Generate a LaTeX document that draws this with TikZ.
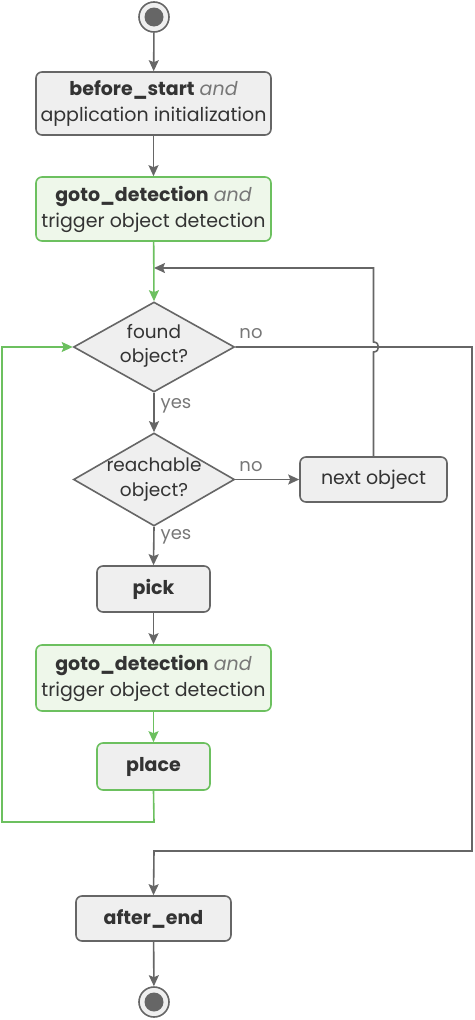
\documentclass[tikz,border=0pt]{standalone}
\usepackage{fontspec}
\setmainfont{Poppins}
\usetikzlibrary{arrows.meta,shapes.geometric}
\definecolor{lgrey}{HTML}{666666}
\definecolor{bfill}{HTML}{EFEFEF}
\definecolor{gstroke}{HTML}{6CC05F}
\definecolor{gfill}{HTML}{EEF7EA}
\definecolor{tdark}{HTML}{333333}
\definecolor{tsoft}{HTML}{777777}
\tikzset{
  box/.style={draw=lgrey, fill=bfill, line width=1.6pt, rounded corners=6pt,
    align=center, inner sep=0pt, text=tdark, font=\fontsize{19}{26}\selectfont},
  gbox/.style={box, draw=gstroke, fill=gfill},
  gpbox/.style={box, draw=gstroke},
  dec/.style={draw=lgrey, fill=bfill, line width=1.6pt, diamond, inner sep=0pt, aspect=1.78},
  dectext/.style={align=center, text=tdark, inner sep=0pt, font=\fontsize{18.5}{24.5}\selectfont},
  conn/.style={draw=lgrey, line width=1.6pt, -{Stealth[length=11pt,width=10pt,inset=2pt]}},
  gconn/.style={conn, draw=gstroke, -{Stealth[length=11pt,width=10pt,inset=2pt,fill=gstroke]}},
  lbl/.style={text=tsoft, font=\fontsize{18}{20}\selectfont, inner sep=0pt},
}
\newcommand{\andw}{{\itshape\color{tsoft}\mdseries and}}
\begin{document}
\begin{tikzpicture}[x=1pt,y=-1pt]
\useasboundingbox (0,0) rectangle (474,1020);
% start / end
\node[circle, draw=lgrey, fill=bfill, line width=1.6pt, minimum size=30pt, inner sep=0pt] (start) at (154,17) {};
\fill[lgrey] (start.center) circle[radius=9.5pt];
\node[circle, draw=lgrey, fill=bfill, line width=1.6pt, minimum size=30pt, inner sep=0pt] (stop) at (154,1002) {};
\fill[lgrey] (stop.center) circle[radius=9.5pt];
% boxes
\node[box, minimum width=235pt, minimum height=63pt] (b1) at (153.5,103.5)
  {\textbf{before\_start} \andw\\application initialization};
\node[gbox, minimum width=235pt, minimum height=64pt] (b2) at (153.5,209)
  {\textbf{goto\_detection} \andw\\trigger object detection};
\node[dec, minimum width=161pt, minimum height=90pt] (d1) at (154,347) {};
\node[dectext] (d1t) at (154,346) {found\\object?};
\node[dec, minimum width=161pt, minimum height=93pt] (d2) at (154,479.5) {};
\node[dectext] (d2t) at (154,479.5) {reachable\\object?};
\node[box, minimum width=147pt, minimum height=45pt] (nx) at (373.5,479.5) {next object};
\node[box, minimum width=113pt, minimum height=46pt] (pick) at (153.5,589) {\textbf{pick}};
\node[gbox, minimum width=235pt, minimum height=66pt] (b3) at (153.5,678)
  {\textbf{goto\_detection} \andw\\trigger object detection};
\node[gpbox, minimum width=113pt, minimum height=47pt] (place) at (153.5,766.5) {\textbf{place}};
\node[box, minimum width=155pt, minimum height=45pt] (ae) at (153.5,918.5) {\textbf{after\_end}};
% coordinates
\coordinate (join) at (154,268);
\coordinate (j1) at (373.5,352);
\coordinate (j2) at (373.5,342);
\coordinate (ntop) at (373.5,268);
\coordinate (r1) at (472,347);
\coordinate (r2) at (472,851);
\coordinate (r3) at (154,851);
\coordinate (l1) at (154,822);
\coordinate (l2) at (2,822);
\coordinate (l3) at (2,347);
% connectors
\draw[conn] (start) -- (b1);
\draw[conn] (b1) -- (b2);
\draw[gconn] (b2) -- (d1.north);
\draw[conn] (nx.north) -- (j1) .. controls (380.2,352) and (380.2,342) .. (j2) -- (ntop) -- (join);
\draw[conn] (d1.east) -- (r1) -- (r2) -- (r3) -- (ae.north);
\draw[conn] (d1.south) -- (d2.north);
\draw[conn] (d2.east) -- (nx.west);
\draw[conn] (d2.south) -- (pick.north);
\draw[conn] (pick) -- (b3);
\draw[gconn] (b3) -- (place);
\draw[gconn] (place.south) -- (l1) -- (l2) -- (l3) -- (d1.west);
\draw[conn] (ae) -- (stop);
% labels
\node[lbl] (n1) at (251,334) {no};
\node[lbl] (n2) at (251,467) {no};
\node[lbl] (y1) at (176,406) {yes};
\node[lbl] (y2) at (176,537) {yes};
\end{tikzpicture}
\end{document}
